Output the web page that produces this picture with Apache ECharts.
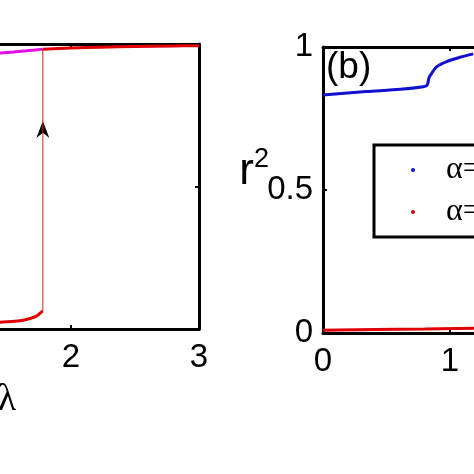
<!DOCTYPE html>
<html>
<head>
<meta charset="utf-8">
<script src="https://cdn.jsdelivr.net/npm/echarts@6/dist/echarts.min.js"></script>
<style>
  html, body { margin: 0; padding: 0; background: #fff; }
  #chart { width: 474px; height: 474px; }
</style>
</head>
<body>
<div id="chart"></div>
<script>
// panel (a): order parameter vs lambda (only right part visible)
const magentaLam = [1.40, 1.445, 1.55, 1.65, 1.72, 1.78];
const magentaVal = [0.966, 0.968, 0.972, 0.976, 0.979, 0.982];
const redTopLam = [1.78, 2.0, 2.23, 2.5, 2.8, 3.0];
const redTopVal = [0.982, 0.986, 0.989, 0.991, 0.993, 0.994];
const redLowLam = [1.40, 1.445, 1.602, 1.68, 1.734, 1.773, 1.78];
const redLowVal = [0.022, 0.024, 0.029, 0.037, 0.046, 0.061, 0.063];
const jumpLam = [1.78, 1.78];
const jumpVal = [0.063, 0.982];
const arrowPos = [1.78, 0.70];

// panel (b): r^2 vs lambda
const blueLam = [0, 0.34, 0.61, 0.79, 0.82, 0.835, 0.856, 0.895, 0.974, 1.079, 1.183];
const blueVal = [0.832, 0.844, 0.852, 0.861, 0.866, 0.893, 0.908, 0.931, 0.949, 0.964, 0.976];
const redBLam = [0, 0.4, 0.8, 1.2];
const redBVal = [0.010, 0.012, 0.014, 0.017];

const legendNames = ['\u03b1=0', '\u03b1=1'];
const xTickLabels = ['0', '1', '2', '3'];
const yTickLabels = { 0: '0', 0.5: '0.5', 1: '1' };

const pairs = (xs, ys) => xs.map((x, i) => [x, ys[i]]);

const axisLine = { onZero: false, lineStyle: { color: '#000', width: 3 } };
const tickIn = { inside: true, length: 4, lineStyle: { color: '#000', width: 2 } };
const labelStyle = { color: '#000', fontSize: 33, fontFamily: 'Liberation Sans' };

function xAx(grid, pos, labels) {
  return {
    type: 'value', gridIndex: grid, position: pos, min: 0, max: 3, interval: 1,
    axisLine: axisLine, axisTick: tickIn, splitLine: { show: false },
    axisLabel: labels ? Object.assign({ margin: 12, formatter: v => xTickLabels[v] }, labelStyle) : { show: false }
  };
}
function yAx(grid, pos, labels) {
  return {
    type: 'value', gridIndex: grid, position: pos, min: 0, max: 1, interval: 0.5,
    axisLine: axisLine, axisTick: tickIn, splitLine: { show: false },
    axisLabel: labels ? Object.assign({ margin: 10, formatter: v => yTickLabels[v] }, labelStyle) : { show: false }
  };
}

const xAxes = [xAx(0, 'bottom', true), xAx(0, 'top', false), xAx(1, 'bottom', true), xAx(1, 'top', false)];
xAxes[0].name = '\u03bb';
xAxes[0].nameLocation = 'middle';
xAxes[0].nameGap = 52;
xAxes[0].nameTextStyle = { color: '#000', fontSize: 38, fontFamily: 'Liberation Serif' };

const yAxes = [yAx(0, 'left', true), yAx(0, 'right', false), yAx(1, 'left', true), yAx(1, 'right', false)];
yAxes[2].name = '{r|r}{s|2}';
yAxes[2].nameLocation = 'middle';
yAxes[2].nameRotate = 0;
yAxes[2].nameGap = 54;
yAxes[2].nameMoveOverlap = false;
yAxes[2].nameTextStyle = {
  padding: [0, 0, 36, 0],
  rich: {
    r: { color: '#000', fontSize: 44, fontFamily: 'Liberation Sans' },
    s: { color: '#000', fontSize: 27, fontFamily: 'Liberation Sans', padding: [0, 0, 24, 0] }
  }
};

const myChart = echarts.init(document.getElementById('chart'));
myChart.setOption({
  animation: false,
  backgroundColor: '#fff',
  title: {
    text: '(b)', left: 326, top: 49, padding: 0,
    textStyle: { color: '#000', fontSize: 37, fontWeight: 'normal', fontFamily: 'Liberation Sans' }
  },
  legend: {
    data: legendNames,
    orient: 'vertical',
    left: 374, top: 145,
    padding: [7, 60, 7, 37],
    itemGap: 6,
    itemWidth: 4, itemHeight: 4,
    icon: 'circle',
    borderColor: '#000', borderWidth: 3, borderRadius: 0,
    textStyle: { color: '#000', fontSize: 32, fontFamily: 'Liberation Serif', padding: [0, 0, 0, 26], lineHeight: 36 }
  },
  grid: [
    { left: -185, top: 44, width: 384, height: 285, outerBoundsMode: 'none', containLabel: false },
    { left: 323, top: 47, width: 381, height: 286, outerBoundsMode: 'none', containLabel: false }
  ],
  xAxis: xAxes,
  yAxis: yAxes,
  series: [
    { type: 'line', xAxisIndex: 0, yAxisIndex: 0, data: pairs(magentaLam, magentaVal), symbol: 'none',
      lineStyle: { color: '#e010e0', width: 3 } },
    { type: 'line', xAxisIndex: 0, yAxisIndex: 0, data: pairs(redLowLam, redLowVal), symbol: 'none', smooth: 0.3,
      lineStyle: { color: '#e00000', width: 3 } },
    { type: 'line', xAxisIndex: 0, yAxisIndex: 0, data: pairs(jumpLam, jumpVal), symbol: 'none',
      lineStyle: { color: '#d02020', width: 1 } },
    { type: 'line', xAxisIndex: 0, yAxisIndex: 0, data: pairs(redTopLam, redTopVal), symbol: 'none', smooth: 0.3,
      lineStyle: { color: '#e00000', width: 3 } },
    { type: 'scatter', xAxisIndex: 0, yAxisIndex: 0, data: [arrowPos],
      symbol: 'path://M6,0 L12,16 L6,11 L0,16 Z', symbolSize: [13, 17],
      itemStyle: { color: '#000', opacity: 1 } },
    { name: legendNames[0], type: 'line', xAxisIndex: 2, yAxisIndex: 2, data: pairs(blueLam, blueVal), symbol: 'none', smooth: 0.3,
      color: '#1010d0', lineStyle: { color: '#1010d0', width: 3 } },
    { name: legendNames[1], type: 'line', xAxisIndex: 2, yAxisIndex: 2, data: pairs(redBLam, redBVal), symbol: 'none',
      color: '#e00000', lineStyle: { color: '#e00000', width: 3 } }
  ]
});
</script>
</body>
</html>
